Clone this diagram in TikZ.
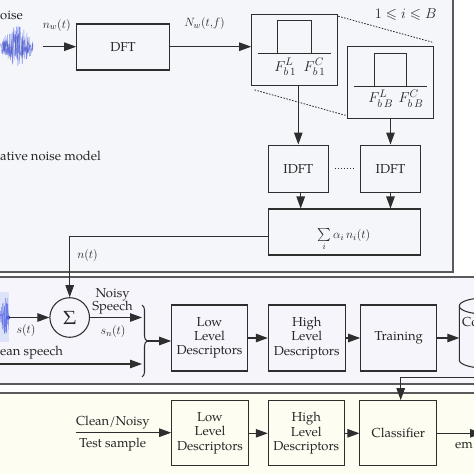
\documentclass[tikz,border=0pt]{standalone}
\usepackage{amsmath,amssymb}
\usepackage{fontspec}
\setmainfont{TeX Gyre Pagella}
\usetikzlibrary{arrows.meta,calc,decorations.pathreplacing}
\definecolor{topbg}{HTML}{F4F6FA}
\definecolor{midbg}{HTML}{F6F5FB}
\definecolor{botbg}{HTML}{FDFDF1}
\definecolor{linecol}{HTML}{2E2E2E}
\definecolor{panelcol}{HTML}{5A5A5A}
\definecolor{noiseblue}{HTML}{5262E4}
\definecolor{speechbg}{HTML}{DCE2F8}
\begin{document}
\begin{tikzpicture}[x=1pt,y=-1pt,
  every node/.style={font=\fontsize{13}{14.3}\selectfont, text=black!85},
  blk/.style={draw=linecol, line width=1.05pt, inner sep=0pt, align=center},
  arr/.style={-{Triangle[length=12pt,width=8.5pt]}, draw=linecol, line width=1.05pt},
  ln/.style={draw=linecol, line width=1.05pt},
  dotln/.style={draw=linecol, line width=0.8pt, dash pattern=on 1.6pt off 1.4pt},
  panel/.style={draw=panelcol, line width=1.3pt},
  lbl/.style={inner sep=0pt},
  flbl/.style={inner sep=0pt, font=\fontsize{15}{16}\selectfont}]
\useasboundingbox (0,0) rectangle (474,474);
\clip (0,0) rectangle (474,474);
\fill[white] (0,0) rectangle (474,474);
% panels
\path[panel, fill=topbg] (-10,-10) rectangle (453,272);
\path[panel, fill=midbg] (-10,277) rectangle (490,384);
\path[panel, fill=botbg] (-10,393) rectangle (490,490);

% ---------- top panel: additive noise model ----------
\node[lbl, anchor=base west] (noiselbl) at (0,19.5) {oise};
\pgfmathsetseed{11}
\draw[noiseblue, line width=0.35pt, opacity=0.75]
  plot[domain=0:33, samples=110] (\x, {47 + rand*(5+17*sin(\x*5.4))});
\pgfmathsetseed{5}
\draw[noiseblue!80!black, line width=0.3pt, opacity=0.6]
  plot[domain=2:33, samples=90] (\x, {47 + rand*(3+12*sin(\x*5.4))});
\node[lbl, anchor=base west] (modellbl) at (0,160) {ative noise model};

\node[blk, minimum width=92.6pt, minimum height=46pt] (dft) at (123,47) {DFT};
\node[blk, minimum width=86pt, minimum height=70.7pt] (f1) at (294.7,49.7) {};
\node[blk, minimum width=86pt, minimum height=71.6pt, fill=topbg] (fb) at (390.3,82.5) {};
\node[blk, minimum width=60pt, minimum height=47.3pt] (idft1) at (298.3,168.7) {IDFT};
\node[blk, minimum width=59.6pt, minimum height=47.3pt] (idftb) at (390.5,168.7) {IDFT};
\node[blk, minimum width=152pt, minimum height=46pt] (sum) at (344.3,232) {};
\node[lbl, anchor=base] (sumtxt) at (343.8,238.3) {$\sum\limits_{i}\alpha_{i}\,n_{i}(t)$};

\begin{scope}[shift={(f1.center)}]
  \draw[ln] (-36.7,3.6) -- (36.3,3.6);
  \draw[ln] (-17,3.6) -- (-17,-29) -- (17,-29) -- (17,3.6);
  \node[flbl] (fl1) at (-9.5,17.5) {$F^{L}_{b\,1}$};
  \node[flbl] (fc1) at (19.8,17.5) {$F^{C}_{b\,1}$};
\end{scope}
\begin{scope}[shift={(fb.center)}]
  \draw[ln] (-36.3,4.2) -- (36.4,4.2);
  \draw[ln] (-16,4.2) -- (-16,-29.2) -- (16.4,-29.2) -- (16.4,4.2);
  \node[flbl] (flb) at (-9.5,16.3) {$F^{L}_{b\,B}$};
  \node[flbl] (fcb) at (20.8,16.3) {$F^{C}_{b\,B}$};
\end{scope}
\draw[dotln] ($(f1.north east)+(0,2.4)$) -- ($(fb.north east)+(-1.6,-4)$);
\draw[dotln] ($(f1.south west)+(3.3,4.3)$) -- ($(fb.south west)+(-0.6,-3.3)$);
\node[lbl, font=\fontsize{14.4}{15}\selectfont] (range) at (405.7,15) {$1 \leqslant i \leqslant B$};

\coordinate (nstart) at (43,46.7);
\draw[arr] (nstart) -- (nstart -| dft.west);
\node[lbl] (nwlbl) at (56.7,25) {$n_{w}(t)$};
\draw[arr] (dft.east |- nstart) -- (nstart -| f1.west);
\node[lbl] (Nwlbl) at (204.5,23.7) {$N_{w}(t{,}f)$};
\draw[arr] (idft1.north |- f1.south) -- (idft1.north);
\draw[arr] (idftb.north |- fb.south) -- (idftb.north);
\coordinate (a1) at ($(idft1.south)+(2.4,0)$);
\draw[arr] (a1) -- (a1 |- sum.north);
\draw[arr] (idftb.south) -- (idftb.south |- sum.north);
\draw[dotln, shorten <=6pt, shorten >=6pt] (idft1.east) -- (idftb.west);

% ---------- middle panel: training ----------
\fill[speechbg] (0,291.7) rectangle (9.3,341.7);
\pgfmathsetseed{3}
\draw[noiseblue, line width=0.4pt, opacity=0.8]
  plot[domain=0:8.5, samples=40] (\x, {317.5 + rand*(6+14*sin(\x*15))});
\fill[noiseblue] (8,317.5) circle (2.2pt);

\node[draw=linecol, line width=1.05pt, circle, minimum size=39.6pt, inner sep=0pt] (sig) at (69.7,317.5) {\fontsize{19}{19}\selectfont Σ};
\coordinate (nt) at ($(sum.west)+(0,4.7)$);
\draw[arr] (nt) -| (sig.north);
\node[lbl] (ntlbl) at (87.5,255) {$n(t)$};
\coordinate (sst) at (9.3,317.5);
\draw[arr] (sst) -- (sig.west);
\node[lbl] (stlbl) at (26,330.7) {$s(t)$};
\coordinate (brtop) at (142,305);
\coordinate (brbot) at (142,377);
\draw[arr] (sig.east) -- (sig.east -| brtop);
\node[lbl, anchor=base] (noisy) at (112.5,297.3) {Noisy};
\node[lbl, anchor=base] (speech) at (112.5,310.7) {Speech};
\node[lbl] (snlbl) at (113,331.7) {$s_{n}(t)$};
\node[lbl, anchor=base west] (cleanlbl) at (0,355.7) {ean speech};
\coordinate (cs) at (0,364);
\draw[arr] (cs) -- (cs -| brtop);
\draw[ln, decorate, decoration={brace, amplitude=5pt}] (brtop) -- (brbot);

\node[blk, minimum width=75.6pt, minimum height=66pt] (lld) at (209.5,338) {Low\\Level\\Descriptors};
\node[blk, minimum width=76.7pt, minimum height=66pt] (hld) at (306.7,338) {High\\Level\\Descriptors};
\node[blk, minimum width=76pt, minimum height=66pt] (trn) at (398.7,338) {Training};
\coordinate (brtip) at (147,341);
\draw[arr] (brtip) -- (brtip -| lld.west);
\draw[arr] (lld) -- (hld);
\draw[arr] (hld) -- (trn);

% corpus cylinder
\filldraw[ln, fill=midbg] (459.3,306) -- (459.3,360) arc[start angle=180, end angle=0, x radius=25, y radius=8] -- (509.3,306);
\filldraw[ln, fill=midbg] (484.3,306) ellipse[x radius=25, y radius=8];
\coordinate (corpw) at (459.3,338);
\draw[arr] (trn.east) -- (trn.east -| corpw);
\node[lbl, anchor=base west] (corplbl) at (462,326.5) {Co};

% ---------- bottom panel: testing ----------
\node[blk, minimum width=76.6pt, minimum height=65.3pt] (blld) at (210,433.3) {Low\\Level\\Descriptors};
\node[blk, minimum width=76pt, minimum height=65.3pt] (bhld) at (306.3,433.3) {High\\Level\\Descriptors};
\node[blk, minimum width=76.7pt, minimum height=65.3pt] (cls) at (398.3,433.3) {Classifier};
\coordinate (ts) at (76,432.7);
\draw[arr] (ts) -- (ts -| blld.west);
\node[lbl, anchor=base] (cnlbl) at (112.8,425) {Clean/Noisy};
\node[lbl, anchor=base] (tslbl) at (112.8,447) {Test sample};
\draw[arr] (blld) -- (bhld);
\draw[arr] (bhld) -- (cls);
\coordinate (cc) at (480,377.7);
\draw[arr] (cc) -| ([xshift=2.4pt]cls.north);
\coordinate (out) at (482,433.3);
\draw[arr] (cls.east) -- (out);
\node[lbl, anchor=base west] (emlbl) at (455,448) {em};
\end{tikzpicture}
\end{document}
